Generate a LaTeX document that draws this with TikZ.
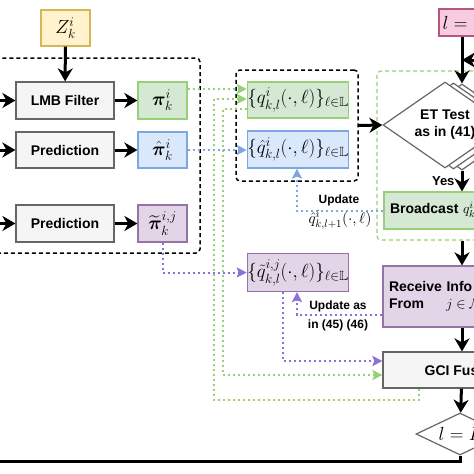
\RequirePackage{fix-cm}
\documentclass[tikz,border=0pt]{standalone}
\usepackage{fontspec}
\usepackage{amssymb}
\usepackage{bm}
\newfontfamily\helv{Liberation Sans}
\usetikzlibrary{arrows.meta,shapes.geometric}

\definecolor{grayfill}{HTML}{F5F5F5}
\definecolor{grayline}{HTML}{666666}
\definecolor{greenfill}{HTML}{D5E8D4}
\definecolor{greenline}{HTML}{97D077}
\definecolor{bluefill}{HTML}{DAE8FC}
\definecolor{blueline}{HTML}{7EA6E0}
\definecolor{purplefill}{HTML}{E1D5E7}
\definecolor{purpleline}{HTML}{9673A6}
\definecolor{purpledot}{HTML}{8C6FD8}
\definecolor{yellowfill}{HTML}{FFF2CC}
\definecolor{yellowline}{HTML}{D6B656}
\definecolor{pinkfill}{HTML}{F8CCE0}
\definecolor{pinkline}{HTML}{B85480}

\tikzset{
  block/.style={rectangle, draw=grayline, fill=grayfill, line width=1.2pt, inner sep=0pt,
    font=\helv\bfseries\fontsize{14}{17}\selectfont},
  greenblock/.style={block, draw=greenline, fill=greenfill},
  blueblock/.style={block, draw=blueline, fill=bluefill},
  purpleblock/.style={block, draw=purpleline, fill=purplefill},
  yellowblock/.style={block, draw=yellowline, fill=yellowfill},
  pinkblock/.style={block, draw=pinkline, fill=pinkfill},
  decision/.style={diamond, draw=grayline, fill=white, line width=1.2pt, inner sep=0pt,
    align=center, font=\helv\bfseries\fontsize{14}{17}\selectfont},
  bigmath/.style={font=\fontsize{19}{22}\selectfont},
  flow/.style={line width=3pt, -{Stealth[length=13pt,width=15pt,inset=4pt]}},
  dots/.style={line width=2pt, dash pattern=on 2pt off 3pt, draw=#1,
    -{Stealth[length=10pt,width=10pt,inset=2pt]}},
  groupbox/.style={draw, line width=1.5pt, dash pattern=on 4pt off 3pt, rounded corners=4pt},
  note/.style={font=\helv\bfseries\fontsize{12}{14}\selectfont, align=center}
}

\begin{document}
\begin{tikzpicture}[x=1pt,y=-1pt]
  \useasboundingbox (0,0) rectangle (474,474);
  \clip (0,0) rectangle (474,474);
  \fill[white] (0,0) rectangle (474,474);

  % groups
  \draw[groupbox] (-10,58) rectangle (200,253);
  \node[groupbox, minimum width=122, minimum height=111] (qgroup) at (297,125.5) {};
  \node[groupbox, draw=greenline, line width=1.2pt, minimum width=170, minimum height=169] (etgroup) at (462,155.5) {};

  % local filter
  \node[yellowblock, bigmath, minimum width=49, minimum height=36] (zk) at (65.5,28) {$Z_k^i$};
  \node[block, minimum width=98, minimum height=37] (lmb) at (65,100.5) {LMB Filter};
  \node[block, minimum width=98, minimum height=36] (pred) at (65,150) {Prediction};
  \node[block, minimum width=98, minimum height=37] (predj) at (65,223.5) {Prediction};
  \node[greenblock, bigmath, minimum width=49, minimum height=37] (pik) at (162.5,100.5) {$\bm{\pi}_k^i$};
  \node[blueblock, bigmath, minimum width=49, minimum height=36] (pihat) at (162.5,150) {$\hat{\bm{\pi}}_k^i$};
  \node[purpleblock, bigmath, minimum width=49, minimum height=37] (pitil) at (162.5,223.5) {$\widetilde{\bm{\pi}}_k^{i,j}$};

  % densities
  \node[greenblock, bigmath, minimum width=99, minimum height=36] (q) at (298,100) {$\{q_{k,l}^i(\cdot,\ell)\}_{\ell\in\mathbb{L}}$};
  \node[blueblock, bigmath, minimum width=99, minimum height=37] (qhat) at (298,149.5) {$\{\hat{q}_{k,l}^i(\cdot,\ell)\}_{\ell\in\mathbb{L}}$};
  \node[purpleblock, bigmath, minimum width=99, minimum height=38] (qtil) at (298,272.5) {$\{\tilde{q}_{k,l}^{i,j}(\cdot,\ell)\}_{\ell\in\mathbb{L}}$};

  % consensus loop
  \node[pinkblock, bigmath, minimum width=46, minimum height=27] (lone) at (462,22.5) {$l = 1$};
  \foreach \dx/\dy/\n in {17/2/etbb, 8.5/1/etb}
    \node[decision, aspect=1.44, minimum width=124, minimum height=86] (\n) at (445+\dx,125+\dy) {};
  \node[decision, aspect=1.44, minimum width=124, minimum height=86] (et) at (445,125) {ET Test\\as in (41)};
  \node[greenblock, minimum width=156, minimum height=37, text width=144, align=left] (bcast) at (462,210.5) {Broadcast $q_{k,l}^i$};
  \node[purpleblock, minimum width=158, minimum height=61, text width=146, align=left] (recv) at (462,296.5) {Receive Info\\From\hspace{22pt}$j\in\mathcal{N}_i$};
  \node[block, minimum width=158, minimum height=36] (gci) at (462,370) {GCI Fusion};
  \node[decision, aspect=2.1, minimum width=88, minimum height=42, bigmath] (dec) at (460,434) {$l = L$};

  % solid flow
  \draw[flow] (zk) -- (lmb);
  \draw[flow] (lmb) -- (pik);
  \draw[flow] (pred) -- (pihat);
  \draw[flow] (predj) -- (pitil);
  \foreach \n in {lmb, pred, predj}
    \draw[flow] ([xshift=-25pt]\n.west) -- (\n.west);
  \draw[flow] (qgroup.east) -- (et.west);
  \draw[flow] (lone) -- (etbb.north);
  \coordinate (loopin) at (490,60);
  \draw[flow] (loopin) -- (loopin -| lone.south);
  \draw[flow] (etbb.south) -- (bcast.north);
  \node[note, font=\helv\bfseries\fontsize{13}{15}\selectfont, anchor=east] (yes) at (458,181) {Yes};
  \draw[flow] (etgroup.south) -- (recv.north);
  \draw[flow] (recv) -- (gci);
  \draw[flow] (gci) -- (dec);
  \coordinate (loopout) at (-10,461);
  \draw[line width=3pt] (dec.south) |- (loopout);

  % dotted exchange
  \draw[dots=greenline] ([yshift=11.5pt]pik.east) -- ([yshift=11.5pt]pik.east -| q.west);
  \draw[dots=greenline] ([xshift=-43pt]gci.south) |- (214,400) |- ([yshift=1pt]q.west);
  \draw[dots=greenline] ([yshift=-9pt]q.west) -| (223,375) -- ([yshift=-5pt]gci.west);
  \draw[dots=blueline] (pihat.east) -- (pihat.east -| qhat.west);
  \draw[dots=blueline] (bcast.west) -| ([xshift=-1pt]qhat.south);
  \draw[dots=purpledot] (pitil.south) |- (qtil.west);
  \draw[dots=purpledot] ([xshift=-15pt]qtil.south) |- ([yshift=9pt]gci.west);
  \draw[dots=purpledot] ([yshift=-18.5pt]recv.west) -| ([xshift=-1pt]qtil.south);

  \node[note] (upd) at (339,200) {Update};
  \node[note, font=\fontsize{15.5}{18}\selectfont] (updq) at (340,220) {$\hat{q}_{k,l+1}^i(\cdot,\ell)$};
  \node[note, font=\helv\bfseries\fontsize{12}{19}\selectfont] (updas) at (338,316) {Update as\\in (45) (46)};
\end{tikzpicture}
\end{document}
